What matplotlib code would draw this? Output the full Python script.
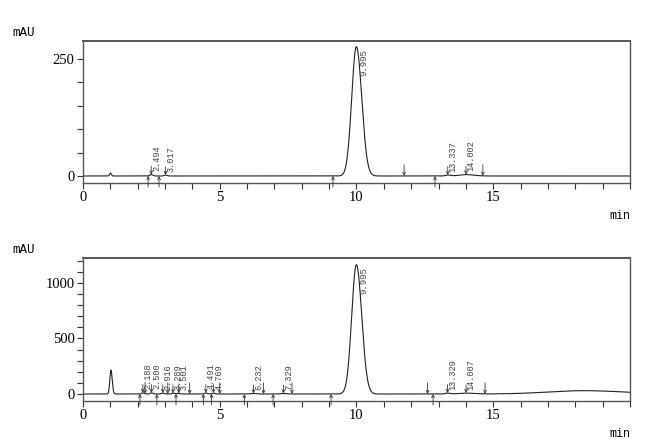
import matplotlib
matplotlib.use("Agg")
import matplotlib.pyplot as plt
import numpy as np

# peak tables: retention time (min), height (mAU), width (sigma, min)
top_rt = [1.00, 2.494, 3.017, 9.995, 13.337, 14.002]
top_height = [6, 3, 2, 276, 2, 3]
top_sigma = [0.03, 0.05, 0.05, 0.17, 0.08, 0.25]
top_labels = ["2.494", "3.017", "9.995", "13.337", "14.002"]
top_label_rt = [2.494, 3.017, 9.995, 13.337, 14.002]
top_start = [2.38, 2.78, 9.14, 12.87]
top_end = [11.74, 14.62]

bot_rt = [1.02, 2.188, 2.500, 2.916, 3.289, 3.501, 4.491, 4.769, 6.232, 7.329, 9.995, 13.329, 14.007, 18.3]
bot_height = [215, 10, 10, 8, 8, 6, 10, 8, 5, 5, 1165, 8, 8, 30]
bot_sigma = [0.04, 0.05, 0.05, 0.05, 0.05, 0.05, 0.05, 0.05, 0.1, 0.1, 0.17, 0.08, 0.25, 1.3]
bot_labels = ["2.188", "2.500", "2.916", "3.289", "3.501", "4.491", "4.769",
              "6.232", "7.329", "9.995", "13.329", "14.007"]
bot_label_rt = [2.188, 2.500, 2.916, 3.289, 3.501, 4.491, 4.769, 6.232, 7.329, 9.995, 13.329, 14.007]
bot_start = [2.08, 2.70, 3.40, 4.40, 4.70, 5.90, 6.95, 9.07, 12.80]
bot_end = [2.27, 3.10, 3.90, 5.00, 6.60, 7.64, 12.60, 14.70]

LINE = "#222222"
MONO = "Liberation Mono"
SERIF = "Liberation Serif"


def trace(t, rt, h, s):
    y = np.zeros_like(t)
    for r, hh, ss in zip(rt, h, s):
        # slight tailing on the right side
        sig = np.where(t > r, ss * 1.15, ss)
        y += hh * np.exp(-0.5 * ((t - r) / sig) ** 2)
    return y


def style(ax, ylim, yticks, yminor):
    ax.set_xlim(0, 20)
    ax.set_ylim(*ylim)
    ax.set_xticks([0, 5, 10, 15])
    ax.set_xticks(np.arange(0, 21, 1), minor=True)
    ax.set_yticks(yticks)
    ax.set_yticks(yminor, minor=True)
    ax.tick_params(which="both", direction="out", length=4, width=0.8, color="#333333",
                   labelsize=10.5, pad=2)
    for lab in ax.get_xticklabels() + ax.get_yticklabels():
        lab.set_fontfamily(SERIF)
    for sp in ax.spines.values():
        sp.set_color("#555555")
        sp.set_linewidth(1.0)
    ax.spines["top"].set_linewidth(1.4)
    ax.text(-0.13, 1.015, "mAU", transform=ax.transAxes, fontsize=9, family=MONO,
            ha="left", va="bottom")
    ax.text(1.0, -0.19, "min", transform=ax.transAxes, fontsize=8.5, family=MONO,
            ha="right", va="top")


def marks(ax, t, y, starts, ends, lab_rt, labels, big):
    arrow = dict(arrowstyle="->", lw=0.6, color="#333333", shrinkA=0, shrinkB=0,
                 mutation_scale=5)
    for s in starts:
        ax.annotate("", xy=(s, np.interp(s, t, y)), xytext=(0, -8),
                    textcoords="offset points", arrowprops=arrow)
    for e in ends:
        ax.annotate("", xy=(e, np.interp(e, t, y)), xytext=(0, 8),
                    textcoords="offset points", arrowprops=arrow)
    for r, lab in zip(lab_rt, labels):
        yy = np.interp(r, t, y)
        if r in big:
            ax.annotate(lab, xy=(r, yy), xytext=(2, -2), textcoords="offset points",
                        rotation=90, ha="left", va="top", fontsize=6.5, family=MONO,
                        color="#444444")
        else:
            ax.annotate("", xy=(r, yy), xytext=(0, 6), textcoords="offset points",
                        arrowprops=arrow)
            ax.annotate(lab, xy=(r, yy), xytext=(0.5, 2.5), textcoords="offset points",
                        rotation=90, ha="left", va="bottom", fontsize=6.2, family=MONO,
                        color="#444444")


fig = plt.figure(figsize=(6.6, 4.41), dpi=100)
ax1 = fig.add_axes([0.1258, 0.585, 0.8287, 0.322])
ax2 = fig.add_axes([0.1258, 0.0907, 0.8287, 0.3243])

t = np.linspace(0, 20, 4001)

y1 = trace(t, top_rt, top_height, top_sigma)
ax1.plot(t, y1, color=LINE, lw=0.8)
style(ax1, (-15, 288), [0, 250], np.arange(0, 251, 50))
marks(ax1, t, y1, top_start, top_end, top_label_rt, top_labels, [9.995])

y2 = trace(t, bot_rt, bot_height, bot_sigma)
ax2.plot(t, y2, color=LINE, lw=0.8)
style(ax2, (-63, 1225), [0, 500, 1000], np.arange(0, 1201, 100))
marks(ax2, t, y2, bot_start, bot_end, bot_label_rt, bot_labels, [9.995])

fig.savefig("out.png", dpi=100)
